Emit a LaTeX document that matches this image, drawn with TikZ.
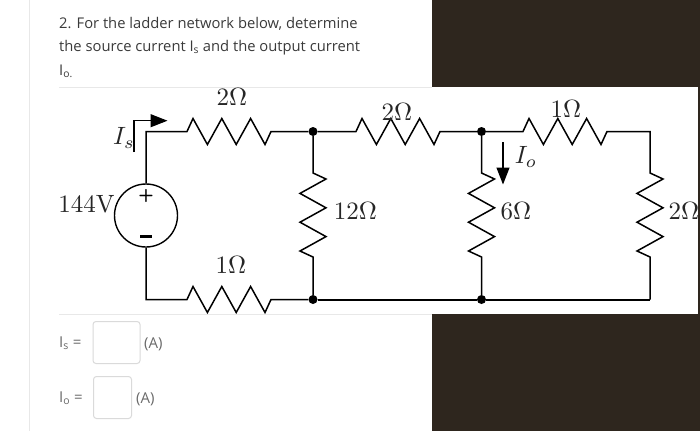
\documentclass[tikz,border=0pt]{standalone}
\usepackage[no-math]{fontspec}
\newfontfamily\uifont{Open Sans}
\usetikzlibrary{arrows.meta}
\definecolor{darkband}{HTML}{2E261E}
\definecolor{uitext}{HTML}{3A3A3A}
\definecolor{formgrey}{HTML}{6A6A6A}
\definecolor{rulegrey}{HTML}{E8E8E8}
\definecolor{boxgrey}{HTML}{DADADA}
\newcommand{\hzig}{-- ++(6,-13) -- ++(14.4,26) -- ++(14.4,-26) -- ++(14.4,26) -- ++(14.4,-26) -- ++(14.4,26) -- ++(6,-13)}
\newcommand{\vzig}{-- ++(13,6) -- ++(-26,14.4) -- ++(26,14.4) -- ++(-26,14.4) -- ++(26,14.4) -- ++(-26,14.4) -- ++(13,6)}
\tikzset{
  wire/.style={line width=1.5pt,black,line join=miter},
  heavy/.style={line width=2pt,black},
  junction/.style={circle,fill=black,inner sep=0pt,minimum size=9pt},
  val/.style={inner sep=0pt,scale=2.5,text=black!85},
  uitxt/.style={font=\uifont\fontsize{14.75}{18}\selectfont,text=uitext,anchor=base west,inner sep=0pt},
  formtxt/.style={font=\uifont\fontsize{15}{16}\selectfont,text=formgrey,anchor=base west,inner sep=0pt},
  ansbox/.style={draw=boxgrey,line width=1pt,fill=white,rounded corners=3pt,anchor=north west,inner sep=0pt},
  band/.style={fill=darkband,draw=none},
  hair/.style={rulegrey,line width=0.8pt},
  flowarrow/.style={line width=1.2pt,-{Triangle[length=17pt,width=13pt]}}
}
\begin{document}
\begin{tikzpicture}[x=1pt,y=-1pt]
\useasboundingbox (0,0) rectangle (700,431);
\fill[white] (0,0) rectangle (700,431);
% dark bands
\fill[band] (432,0) rectangle (700,87);
\fill[band] (432,314) rectangle (700,431);
\fill[band] (698,87) rectangle (700,314);
% hairlines
\draw[hair] (29.5,0) -- (29.5,431);
\draw[hair] (59,87) -- (432,87);
\draw[hair] (59,314) -- (432,314);
% question
\node[uitxt] (q1) at (59,28) {2. For the ladder network below, determine};
\node[uitxt] (q2) at (59,51) {the source current I\textsubscript{s} and the output current};
\node[uitxt] (q3) at (59,75) {I\textsubscript{o.}};
% coordinates
\node[junction] (n1) at (313,131.5) {};
\node[junction] (n2) at (481.5,131.5) {};
\node[junction] (m1) at (313,299.5) {};
\node[junction] (m2) at (481.5,299.5) {};
\node[circle,draw,line width=1.4pt,minimum size=63pt,inner sep=0pt] (src) at (146,215.5) {};
\coordinate (ra) at (187,131.5);
\coordinate (sa) at (356,131.5);
\coordinate (ta) at (523,131.5);
\coordinate (ua) at (187,299.5);
\coordinate (va) at (313,173);
\coordinate (wa) at (481.5,173);
\coordinate (xa) at (650,173);
\coordinate (tr) at (650,131.5);
\coordinate (br) at (650,299.5);
% wires
\draw[wire] (src.north) |- (ra) \hzig -- (n1);
\draw[wire] (n1) -- (sa) \hzig -- (n2);
\draw[wire] (n2) -- (ta) \hzig -- (tr) -- (xa) \vzig -- (br);
\draw[wire] (src.south) |- (ua) \hzig -- (m1);
\draw[wire] (n1) -- (va) \vzig -- (m1);
\draw[wire] (n2) -- (wa) \vzig -- (m2);
\draw[heavy] (m1) -- (m2) -- (br);
% source marks
\node[inner sep=0pt,font=\sffamily\bfseries\fontsize{18}{18}\selectfont] (plus) at (146,196) {+};
\node[inner sep=0pt,minimum width=12pt,minimum height=2.4pt,fill=black] (minus) at (146,236.5) {};
% current arrows
\coordinate (isa) at (134,152);
\coordinate (isb) at (167.5,120.7);
\draw[flowarrow] (isa) |- (isb);
\coordinate (ioa) at (503,142);
\coordinate (iob) at (503,184.5);
\draw[flowarrow] (ioa) -- (iob);
% labels
\node[val] (l1) at (232,97) {$2\Omega$};
\node[val] (l2) at (397,112) {$2\Omega$};
\node[val] (l3) at (566,109) {$1\Omega$};
\node[val] (l4) at (231,265) {$1\Omega$};
\node[val] (l5) at (355.5,211) {$12\Omega$};
\node[val] (l6) at (516,211) {$6\Omega$};
\node[val,anchor=west] (l7) at (668,211) {$2\Omega$};
\node[val,anchor=east] (l8) at (115,204) {144V};
\node[val] (l9) at (124,138) {$I_s$};
\node[val] (l10) at (526,157) {$I_o$};
% form
\node[formtxt] (fs) at (59,347) {I\textsubscript{s} =};
\node[formtxt] (fo) at (59,402) {I\textsubscript{o} =};
\node[ansbox,minimum width=47pt,minimum height=42pt] (box1) at (92.5,321) {};
\node[ansbox,minimum width=38pt,minimum height=42pt] (box2) at (93,376) {};
\node[formtxt] (a1) at (144,348) {(A)};
\node[formtxt] (a2) at (136,403) {(A)};
\end{tikzpicture}
\end{document}
